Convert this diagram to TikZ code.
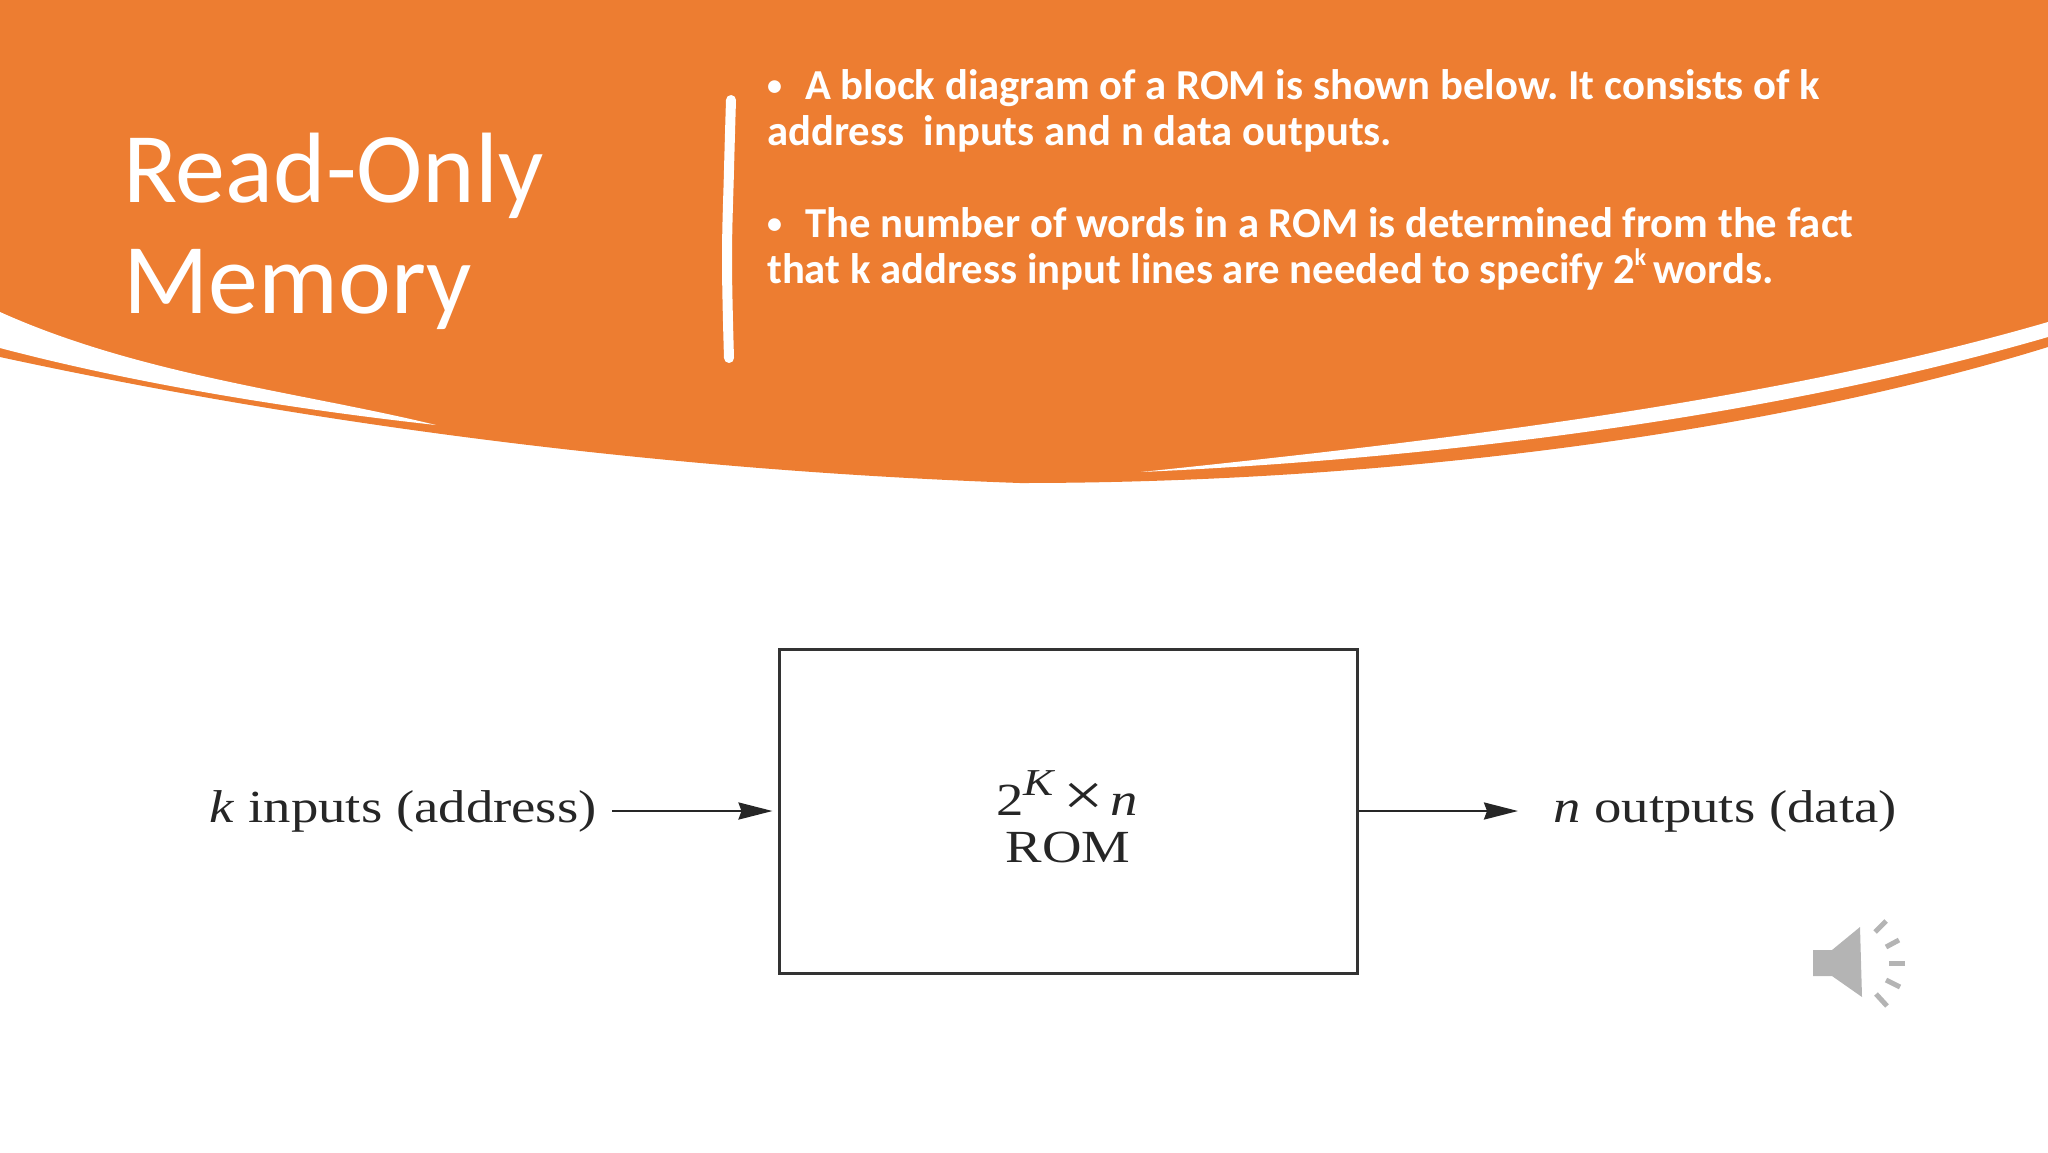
\documentclass[tikz,border=0pt]{standalone}
\usepackage{fontspec}
\usetikzlibrary{arrows.meta}
\setmainfont{Carlito}
\newfontfamily\romfont[FakeStretch=1.19]{Liberation Serif}
\definecolor{bannerorange}{HTML}{ED7D31}
\definecolor{speakergray}{HTML}{B4B4B4}
\tikzset{
	titletext/.style={anchor=base west,inner sep=0pt,white,font=\fontsize{100}{111}\selectfont},
	bodytext/.style={anchor=north west,inner sep=0pt,white,align=left,font=\fontsize{42.7}{46}\selectfont\bfseries\frenchspacing},
	blocktext/.style={inner sep=0pt,text=black!85,font=\romfont\fontsize{46}{46}\selectfont},
	rombox/.style={draw=black!80,line width=3pt,minimum width=578pt,minimum height=324pt,inner sep=0pt},
	flowarrow/.style={->,black!85,line width=2.5pt},
	speakertick/.style={speakergray,line width=5pt}
}
\newcommand{\pointmark}{\makebox[38pt][l]{\fontsize{30}{30}\selectfont\raisebox{.12em}{\textbullet}}}
\begin{document}
\begin{tikzpicture}[>={Stealth[length=34pt,width=17pt,inset=3pt]},x=1pt,y=-1pt]
	\useasboundingbox (0,0) rectangle (2048,1152);
	% banner
	\fill[bannerorange] (0,0) -- (2048,0) -- (2048,347) .. controls (1780,430) and (1400,483) .. (1020,483) .. controls (650,470) and (300,422) .. (0,357) -- cycle;
	\fill[white] (0,312) .. controls (140,375) and (300,392) .. (436,425) .. controls (300,410) and (140,385) .. (0,348) -- cycle;
	\fill[white] (1141,472) .. controls (1450,440) and (1780,400) .. (2048,322) -- (2048,337) .. controls (1780,415) and (1450,458) .. (1141,472) -- cycle;
	\draw[white,line width=10pt,line cap=round] plot[smooth,tension=.65] coordinates{(731,100) (729,170) (727,260) (729,358)};
	% texts on the banner
	\node[titletext] (titlea) at (123,202) {Read-Only};
	\node[titletext] (titleb) at (123,313) {Memory};
	\node[bodytext] (pointa) at (767,69) {\pointmark A block diagram of a ROM is shown below. It consists of k\\address\ \ inputs and n data outputs.};
	\node[bodytext] (pointb) at (767,207) {\pointmark The number of words in a ROM is determined from the fact\\that k address input lines are needed to specify 2\raisebox{.42em}{\fontsize{24}{24}\selectfont k}\,words.};
	% block diagram
	\node[rombox] (rom) at (1068,811) {};
	\node[blocktext] (romsize) at (1067,793) {2\raisebox{.42em}{\fontsize{38}{38}\selectfont\itshape K}\hspace{10pt}{\fontsize{60}{46}\selectfont×}\hspace{6pt}\textit{n}};
	\node[blocktext] (romname) at (1068,847) {ROM};
	\node[blocktext,anchor=east] (inlabel) at (597,811) {\textit{k} inputs (address)};
	\node[blocktext,anchor=west] (outlabel) at (1553,811) {\textit{n} outputs (data)};
	\draw[flowarrow,shorten <=15pt,shorten >=5pt] (inlabel) -- (rom);
	\draw[flowarrow,shorten >=35pt] (rom) -- (outlabel);
	% speaker
	\fill[speakergray] (1813,950) -- (1832,950) -- (1860,927) -- (1862,997) -- (1832,976) -- (1813,976) -- cycle;
	\draw[speakertick] (1875,932) -- (1886,921);
	\draw[speakertick] (1886,947) -- (1899,940);
	\draw[speakertick] (1889,963) -- (1905,963);
	\draw[speakertick] (1886,980) -- (1900,987);
	\draw[speakertick] (1876,994) -- (1887,1006);
\end{tikzpicture}
\end{document}
